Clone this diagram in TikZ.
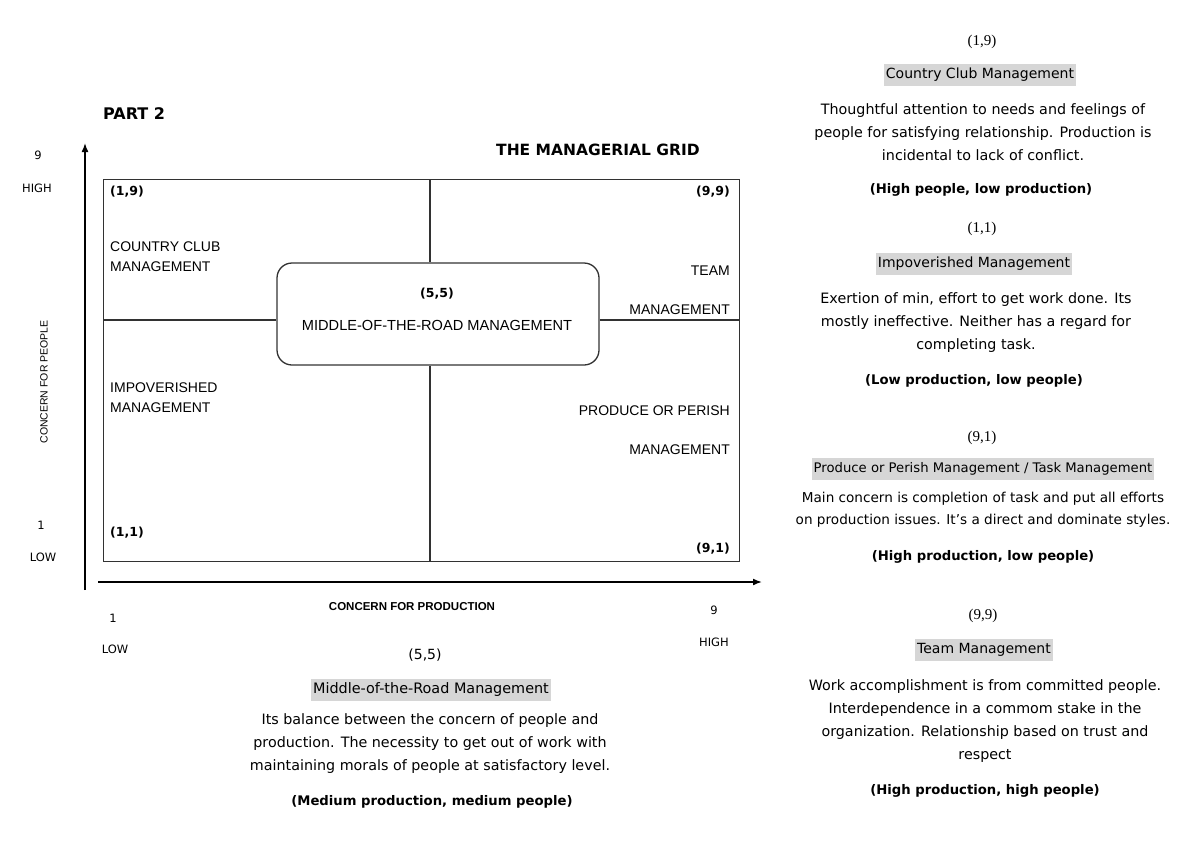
\documentclass[tikz,border=0pt]{standalone}
\usepackage{fontspec}
\setmainfont{DejaVu Sans}
\newfontfamily\libsans{Liberation Sans}
\newfontfamily\libserif{Liberation Serif}
\usetikzlibrary{arrows.meta}
\definecolor{hl}{RGB}{214,214,214}
\definecolor{gridline}{RGB}{50,50,50}
\begin{document}
\begin{tikzpicture}[x=1pt,y=-1pt,
  every node/.style={inner sep=0pt},
  gridlbl/.style={font=\libsans\fontsize{14}{20}\selectfont},
  gridnum/.style={font=\fontsize{12.5}{14}\selectfont\bfseries},
  axlbl/.style={font=\fontsize{11.5}{12}\selectfont},
  title/.style={font=\fontsize{15.5}{16}\selectfont\bfseries},
  coord/.style={font=\libserif\fontsize{15}{16}\selectfont},
  head/.style={font=\fontsize{14}{16}\selectfont, fill=hl, inner xsep=2pt, inner ysep=4.5pt},
  para/.style={font=\fontsize{14.3}{23}\selectfont, align=center},
  summ/.style={font=\fontsize{13.2}{15}\selectfont\bfseries},
  axis/.style={line width=1.6pt, -{Latex[length=9pt,width=7pt]}},
  frame/.style={draw=gridline, line width=1.3pt}]
\useasboundingbox (0,0) rectangle (1200,849);

% titles
\node[title, font=\fontsize{16}{16}\selectfont\bfseries, anchor=west] (part) at (103,114) {PART 2};
\node[title, anchor=west] (ttl) at (496,150) {THE MANAGERIAL GRID};

% axes
\coordinate (yb) at (85,590);
\coordinate (yt) at (85,143);
\coordinate (xl) at (98,582);
\coordinate (xr) at (762,582);
\draw[axis] (yb) -- (yt);
\draw[axis] (xl) -- (xr);

% axis labels
\node[axlbl] (y9) at (38,155) {9};
\node[axlbl] (yhigh) at (37,188) {HIGH};
\node[axlbl] (y1) at (41,525) {1};
\node[axlbl] (ylow) at (43,557) {LOW};
\node[font=\libsans\fontsize{10.5}{12}\selectfont, rotate=90] (ylab) at (44,382) {CONCERN FOR PEOPLE};
\node[font=\libsans\fontsize{11.5}{12}\selectfont\bfseries] (xlab) at (412,607) {CONCERN FOR PRODUCTION};
\node[axlbl] (x1) at (113,618) {1};
\node[axlbl] (xlow) at (115,649) {LOW};
\node[axlbl] (x9) at (714,610) {9};
\node[axlbl] (xhigh) at (714,642) {HIGH};

% grid
\node[frame, draw, minimum width=636pt, minimum height=382pt, anchor=north west] (grid) at (103,179) {};
\node[frame, draw, rounded corners=15pt, minimum width=322pt, minimum height=102pt] (mid) at (438,314) {};
\coordinate (vx) at (430,0);
\coordinate (hy) at (0,320);
\draw[frame] (grid.north -| vx) -- (mid.north -| vx);
\draw[frame] (mid.south -| vx) -- (grid.south -| vx);
\draw[frame] (grid.west |- hy) -- (mid.west |- hy);
\draw[frame] (mid.east |- hy) -- (grid.east |- hy);

% grid labels
\node[gridnum, anchor=west] (g19) at (110,192) {(1,9)};
\node[gridnum, anchor=east] (g99) at (730,192) {(9,9)};
\node[gridnum, anchor=west] (g11) at (110,533) {(1,1)};
\node[gridnum, anchor=east] (g91) at (730,549) {(9,1)};
\node[gridnum] (g55) at (437,294) {(5,5)};
\node[gridlbl, anchor=north west, align=left] (cc) at (110,242) {COUNTRY CLUB\\MANAGEMENT};
\node[gridlbl, anchor=north west, align=left] (imp) at (110,383) {IMPOVERISHED\\MANAGEMENT};
\node[gridlbl, font=\libsans\fontsize{14.6}{20}\selectfont] (mr) at (437,325) {MIDDLE-OF-THE-ROAD MANAGEMENT};
\node[gridlbl, anchor=east] (team1) at (730,271) {TEAM};
\node[gridlbl, anchor=east] (team2) at (730,310) {MANAGEMENT};
\node[gridlbl, anchor=east] (pp1) at (730,411) {PRODUCE OR PERISH};
\node[gridlbl, anchor=east] (pp2) at (730,450) {MANAGEMENT};

% bottom description (5,5)
\node[axlbl, font=\fontsize{14}{16}\selectfont] (c55) at (425,655) {(5,5)};
\node[head, font=\fontsize{14.4}{16}\selectfont] (h55) at (431,690) {Middle-of-the-Road Management};
\node[para] (p55) at (430,744) {Its balance between the concern of people and\\production. The necessity to get out of work with\\maintaining morals of people at satisfactory level.};
\node[summ] (s55) at (432,802) {(Medium production, medium people)};

% right column
\node[coord] (c19) at (982,42) {(1,9)};
\node[head] (h19) at (980,75) {Country Club Management};
\node[para] (p19) at (983,132) {Thoughtful attention to needs and feelings of\\people for satisfying relationship. Production is\\incidental to lack of conflict.};
\node[summ] (s19) at (981,190) {(High people, low production)};

\node[coord] (c11) at (982,229) {(1,1)};
\node[head] (h11) at (974,264) {Impoverished Management};
\node[para] (p11) at (976,323) {Exertion of min, effort to get work done. Its\\mostly ineffective. Neither has a regard for\\completing task.};
\node[summ] (s11) at (974,381) {(Low production, low people)};

\node[coord] (c91) at (982,438) {(9,1)};
\node[head, font=\fontsize{13.2}{16}\selectfont] (h91) at (983,469) {Produce or Perish Management / Task Management};
\node[para, font=\fontsize{13.6}{22}\selectfont] (p91) at (983,510) {Main concern is completion of task and put all efforts\\on production issues. It's a direct and dominate styles.};
\node[summ] (s91) at (983,557) {(High production, low people)};

\node[coord] (c99) at (983,616) {(9,9)};
\node[head] (h99) at (984,650) {Team Management};
\node[para] (p99) at (985,721) {Work accomplishment is from committed people.\\Interdependence in a commom stake in the\\organization. Relationship based on trust and\\respect};
\node[summ] (s99) at (985,791) {(High production, high people)};
\end{tikzpicture}
\end{document}
